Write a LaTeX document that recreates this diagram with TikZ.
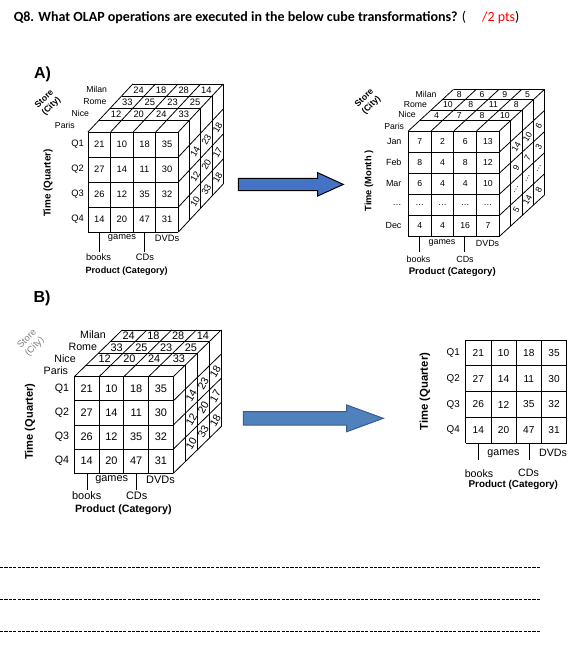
\documentclass[tikz,border=0pt]{standalone}
\usepackage{fontspec}
\setmainfont{Liberation Sans}
\newfontfamily\titlefont{Carlito}
\definecolor{arrowblue}{HTML}{4472C4}
\definecolor{arrowsteel}{HTML}{4F81BD}
\definecolor{arrowedge}{HTML}{385D8A}
\usetikzlibrary{positioning}

% #1,#2 front top-left, #3 cell width, #4 cell height, #5,#6 depth step, #7 columns, #8 rows
\newcommand{\drawcube}[8]{%
  \foreach \i in {0,...,#7}
    \draw[cubeline] ({#1+\i*#3},{#2}) -- ++(0,{#8*#4});
  \foreach \j in {0,...,#8}
    \draw[cubeline] ({#1},{#2+\j*#4}) -- ++({#7*#3},0);
  \foreach \k in {1,...,4}
    \draw[cubeline] ({#1+\k*(#5)},{#2+\k*(#6)}) -- ++({#7*#3},0);
  \foreach \i in {0,...,#7}
    \draw[cubeline] ({#1+\i*#3},{#2}) -- ++({4*(#5)},{4*(#6)});
  \foreach \k in {1,...,4}
    \draw[cubeline] ({#1+#7*#3+\k*(#5)},{#2+\k*(#6)}) -- ++(0,{#8*#4});
  \foreach \j in {1,...,#8}
    \draw[cubeline] ({#1+#7*#3},{#2+\j*#4}) -- ++({4*(#5)},{4*(#6)});
}

\tikzset{
  cubeline/.style={line width=0.6pt},
  lbl/.style={inner sep=0pt,font=\fontsize{#1}{#1}\selectfont},
  axislbl/.style={inner sep=0pt,font=\bfseries\fontsize{#1}{#1}\selectfont},
  storelbl/.style={inner sep=0pt,align=center,rotate=45},
  blockarrow/.style={line width=0.75pt,line join=miter}
}

\begin{document}
\begin{tikzpicture}[x=0.75pt,y=-0.75pt]
\useasboundingbox (0,0) rectangle (577,646);

\node[anchor=base west,inner sep=0pt,font=\titlefont\fontsize{10.5}{12.5}\selectfont] (title) at (13.5,21.5)
  {\textbf{Q8. What OLAP operations are executed in the below cube transformations?} (\hspace{12pt}\textcolor{red}{/2 pts})};
\node[axislbl=12] (parta) at (42.5,74) {A)};
\node[axislbl=12] (partb) at (42,298) {B)};

% A: quarters
\drawcube{88}{132}{22.6}{25}{11.2}{-12}{4}{4}
\foreach \r [count=\j] in {{21,10,18,35},{27,14,11,30},{26,12,35,32},{14,20,47,31}}
  \foreach \v [count=\i] in \r
    \node[lbl=7] (a-\j-\i) at ({88+(\i-0.5)*22.6},{132+(\j-0.5)*25}) {\v};
\foreach \r [count=\k] in {{12,20,24,33},{33,25,23,25},{24,18,28,14}}
  \foreach \v [count=\i] in \r
    \node[lbl=7] (at-\k-\i) at ({88+(\i-0.5)*22.6+(\k+0.5)*11.2},{132-(\k+0.5)*12}) {\v};
\foreach \r [count=\k] in {{14,12,10},{23,20,33},{18,17,18}}
  \foreach \v [count=\j] in \r
    \node[lbl=7,rotate=60] (as-\k-\j) at ({178.4+(\k+0.5)*11.2},{132+(\j+0.5)*25-(\k+0.5)*12}) {\v};
\foreach \q [count=\j] in {Q1,Q2,Q3,Q4}
  \node[lbl=7,anchor=east] (aq-\j) at (84,{132+(\j-0.5)*25}) {\q};
\node[lbl=6.5,anchor=east] (a-paris) at (75,125) {Paris};
\node[lbl=6.5,anchor=east] (a-nice) at (89.3,113.3) {Nice};
\node[lbl=6.5,anchor=east] (a-rome) at (106.7,101.7) {Rome};
\node[lbl=6.5,anchor=east] (a-milan) at (107.3,89.3) {Milan};
\node[storelbl,font=\bfseries\fontsize{6.5}{7.5}\selectfont] (a-store) at (48,103) {Store\\(City)};
\node[axislbl=7.4,rotate=90] (a-time) at (48,183) {Time (Quarter)};
\draw[cubeline] (99.3,232) -- (99.3,252);
\draw[cubeline] (144.5,232) -- (144.5,252);
\node[lbl=7] (a-games) at (122,238) {games};
\node[lbl=7] (a-dvds) at (167,238) {DVDs};
\node[lbl=7] (a-books) at (98.5,257) {books};
\node[lbl=7] (a-cds) at (145,257) {CDs};
\node[axislbl=6.8] (a-product) at (126.7,271) {Product (Category)};

\draw[blockarrow,fill=arrowblue] (238.3,178.3) -- (317.7,178.3) -- (317.7,172.7) -- (343.3,184.4)
  -- (317.7,196) -- (317.7,190.7) -- (238.3,190.7) -- cycle;

% A: months
\drawcube{408.3}{131}{22.75}{21.1}{11.3}{-10.4}{4}{5}
\foreach \r [count=\j] in {{7,2,6,13},{8,4,8,12},{6,4,4,10},{\ldots,\ldots,\ldots,\ldots},{4,4,16,7}}
  \foreach \v [count=\i] in \r
    \node[lbl=6.5] (m-\j-\i) at ({408.3+(\i-0.5)*22.75},{131+(\j-0.5)*21.1}) {\v};
\foreach \r [count=\k] in {{4,7,8,10},{10,8,11,8},{8,6,9,5}}
  \foreach \v [count=\i] in \r
    \node[lbl=6.5] (mt-\k-\i) at ({408.3+(\i-0.5)*22.75+(\k+0.5)*11.3},{131-(\k+0.5)*10.4}) {\v};
\foreach \r [count=\k] in {{14,9,\ldots,5},{10,7,\ldots,14},{6,3,\ldots,8}}
  \foreach \v [count=\j] in \r
    \node[lbl=6.5,rotate=60] (ms-\k-\j) at ({499.3+(\k+0.5)*11.3},{131+(\j+0.5)*21.1-(\k+0.5)*10.4}) {\v};
\foreach \q [count=\j] in {Jan,Feb,Mar,\ldots,Dec}
  \node[lbl=6.7,anchor=east] (mq-\j) at (401.7,{131+(\j-0.5)*21.1}) {\q};
\node[lbl=6.5,anchor=east] (m-paris) at (404.3,126) {Paris};
\node[lbl=6.5,anchor=east] (m-nice) at (416,114.3) {Nice};
\node[lbl=6.5,anchor=east] (m-rome) at (427.3,104.3) {Rome};
\node[lbl=6.5,anchor=east] (m-milan) at (436.7,94.3) {Milan};
\node[storelbl,font=\bfseries\fontsize{6.5}{7.5}\selectfont] (m-store) at (368,102) {Store\\(City)};
\node[axislbl=7,rotate=90] (m-time) at (369,181) {Time (Month )};
\draw[cubeline] (419.5,236.7) -- (419.5,251.5);
\draw[cubeline] (464.8,236.7) -- (464.8,251.5);
\node[lbl=6.7] (m-games) at (442,243.3) {games};
\node[lbl=6.7] (m-dvds) at (487.5,243.3) {DVDs};
\node[lbl=6.7] (m-books) at (418.5,259.5) {books};
\node[lbl=6.7] (m-cds) at (465,259.5) {CDs};
\node[axislbl=7.2] (m-product) at (452.3,272.3) {Product (Category)};

% B: full cube
\drawcube{74.3}{376.7}{24.75}{24.15}{12}{-11.7}{4}{4}
\foreach \r [count=\j] in {{21,10,18,35},{27,14,11,30},{26,12,35,32},{14,20,47,31}}
  \foreach \v [count=\i] in \r
    \node[lbl=8.2] (b-\j-\i) at ({74.3+(\i-0.5)*24.75},{376.7+(\j-0.5)*24.15}) {\v};
\foreach \r [count=\k] in {{12,20,24,33},{33,25,23,25},{24,18,28,14}}
  \foreach \v [count=\i] in \r
    \node[lbl=8.2] (bt-\k-\i) at ({74.3+(\i-0.5)*24.75+(\k+0.5)*12},{376.7-(\k+0.5)*11.7}) {\v};
\foreach \r [count=\k] in {{14,12,10},{23,20,33},{18,17,18}}
  \foreach \v [count=\j] in \r
    \node[lbl=8,rotate=60] (bs-\k-\j) at ({173.3+(\k+0.5)*12},{376.7+(\j+0.5)*24.15-(\k+0.5)*11.7}) {\v};
\foreach \q [count=\j] in {Q1,Q2,Q3,Q4}
  \node[lbl=8,anchor=east] (bq-\j) at (69.3,{376.7+(\j-0.5)*24.15}) {\q};
\node[lbl=8,anchor=east] (b-paris) at (68.3,370.7) {Paris};
\node[lbl=8,anchor=east] (b-nice) at (76,358.3) {Nice};
\node[lbl=8,anchor=east] (b-rome) at (97.3,346.7) {Rome};
\node[lbl=8,anchor=east] (b-milan) at (106,335) {Milan};
\node[storelbl,text=gray,font=\fontsize{7}{8}\selectfont] (b-store) at (31,343) {Store\\(City)};
\node[axislbl=8.3,rotate=90] (b-time) at (30,421.7) {Time (Quarter)};
\draw[cubeline] (87,473.3) -- (87,489.5);
\draw[cubeline] (136.2,473.3) -- (136.2,489.5);
\node[lbl=8.2] (b-games) at (111.7,480) {games};
\node[lbl=8.2] (b-dvds) at (160.5,480) {DVDs};
\node[lbl=8.2] (b-books) at (86.7,496) {books};
\node[lbl=8.2] (b-cds) at (136.7,496) {CDs};
\node[axislbl=8] (b-product) at (123.3,509.5) {Product (Category)};

\draw[blockarrow,fill=arrowsteel,draw=arrowedge] (243.3,411.7) -- (346.7,411.7) -- (346.7,405) -- (383.3,418.3)
  -- (346.7,431.7) -- (346.7,425) -- (243.3,425) -- cycle;

% B: slice
\foreach \i in {0,...,4}
  \draw[cubeline] ({465.7+\i*25.25},340) -- ++(0,103.2);
\foreach \j in {0,...,4}
  \draw[cubeline] (465.7,{340+\j*25.8}) -- ++(101,0);
\foreach \r [count=\j] in {{21,10,18,35},{27,14,11,30},{26,12,35,32},{14,20,47,31}}
  \foreach \v [count=\i] in \r
    \node[lbl=7.6] (s-\j-\i) at ({465.7+(\i-0.5)*25.25},{340+(\j-0.5)*25.8}) {\v};
\foreach \q [count=\j] in {Q1,Q2,Q3,Q4}
  \node[lbl=7.4,anchor=east] (sq-\j) at (460,{340+(\j-0.5)*25.8}) {\q};
\node[axislbl=8.5,rotate=90] (s-time) at (425,391.7) {Time (Quarter)};
\draw[cubeline] (478.3,443.3) -- (478.3,460);
\draw[cubeline] (529,443.3) -- (529,460);
\node[lbl=8] (s-games) at (503.5,453.3) {games};
\node[lbl=8] (s-dvds) at (553,453.3) {DVDs};
\node[lbl=8] (s-books) at (479,473.3) {books};
\node[lbl=8] (s-cds) at (528.5,473.3) {CDs};
\node[axislbl=7.4] (s-product) at (513.3,485) {Product (Category)};

% answer lines
\foreach \y in {567,599,631}
  \draw[line width=0.7pt,dash pattern=on 2.4pt off 0.9pt] (0,\y) -- (541,\y);
\end{tikzpicture}
\end{document}
